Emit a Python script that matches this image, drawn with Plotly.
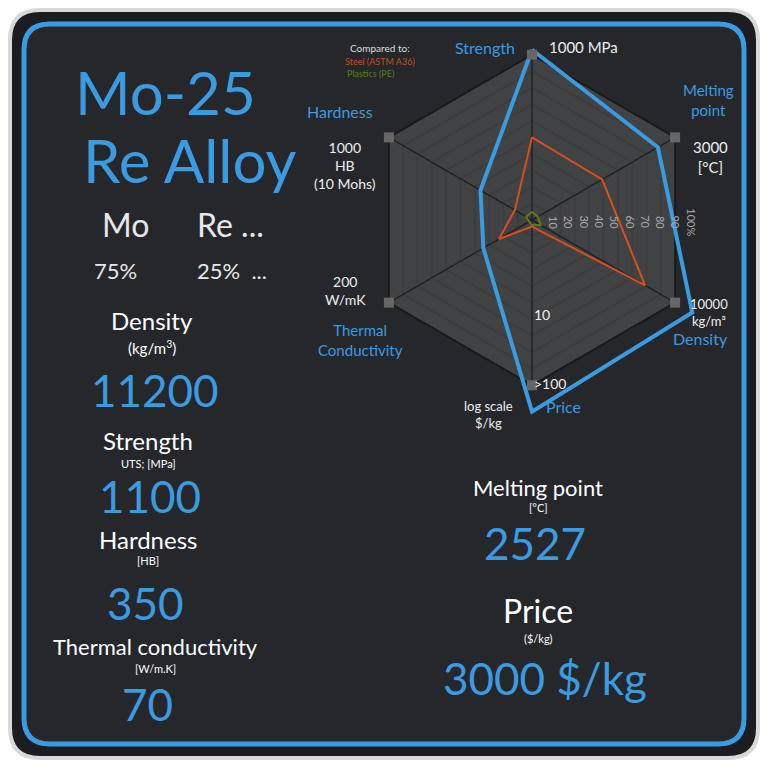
import plotly.graph_objects as go

axes = ["Strength", "Melting point", "Density", "Price", "Thermal Conductivity", "Hardness"]
alloy = [103, 88, 112, 116, 34, 36]
steel = [50, 49, 79, 4, 23, 12]
plastic = [5, 4, 6, 3, 2, 4]
rings = [10, 20, 30, 40, 50, 60, 70, 80, 90, 100]
ring_labels = ["10", "20", "30", "40", "50", "60", "70", "80", "90", "100%"]

BLUE = "#3b9be0"
F = "Lato"
fig = go.Figure()

def closed(v):
    return list(v) + [v[0]]
th = closed(axes)

for i, r in enumerate(rings):
    fig.add_trace(go.Scatterpolar(r=[r]*7, theta=th, mode="lines",
        line=dict(color="#1a1a1a", width=2), fill="toself" if i == len(rings)-1 else None,
        fillcolor="rgba(85,85,85,0.6)", hoverinfo="skip", showlegend=False))
for a in axes:
    fig.add_trace(go.Scatterpolar(r=[0, 100], theta=[a, a], mode="lines",
        line=dict(color="#222", width=1.5), hoverinfo="skip", showlegend=False))
fig.add_trace(go.Scatterpolar(r=closed(plastic), theta=th, mode="lines",
    line=dict(color="#5a7a1e", width=2), showlegend=False))
fig.add_trace(go.Scatterpolar(r=closed(steel), theta=th, mode="lines",
    line=dict(color="#d4501e", width=2), showlegend=False))
fig.add_trace(go.Scatterpolar(r=closed(alloy), theta=th, mode="lines",
    line=dict(color=BLUE, width=4), showlegend=False))
fig.add_trace(go.Scatterpolar(r=[100]*6, theta=axes, mode="markers",
    marker=dict(symbol="square", size=10, color="#666"), hoverinfo="skip", showlegend=False))

OFF = 8
W = 768 - OFF
R = 195
cx, cy = 532 - OFF, 220 - OFF
fig.update_layout(
    width=W, height=W, margin=dict(l=0, r=0, t=0, b=0),
    paper_bgcolor="white", plot_bgcolor="white",
    polar=dict(
        domain=dict(x=[(cx-R)/W, (cx+R)/W], y=[(W-cy-R)/W, (W-cy+R)/W]),
        bgcolor="rgba(0,0,0,0)", gridshape="linear",
        radialaxis=dict(range=[0, 118], visible=False),
        angularaxis=dict(rotation=90, direction="clockwise", visible=False),
    ),
    showlegend=False,
)

shapes = [
    dict(type="path", path="M 40 8 L 728 8 Q 760 8 760 40 L 760 728 Q 760 760 728 760 L 40 760 Q 8 760 8 728 L 8 40 Q 8 8 40 8 Z",
         fillcolor="#d8d8d8", line=dict(width=0)),
    dict(type="path", path="M 40 12 L 728 12 Q 756 12 756 40 L 756 728 Q 756 756 728 756 L 40 756 Q 12 756 12 728 L 12 40 Q 12 12 40 12 Z",
         fillcolor="#1c1d20", line=dict(width=0)),
    dict(type="path", path="M 50 24 L 718 24 Q 744 24 744 50 L 744 718 Q 744 744 718 744 L 50 744 Q 24 744 24 718 L 24 50 Q 24 24 50 24 Z",
         fillcolor="#25272b", line=dict(color=BLUE, width=5)),
]
for s in shapes:
    s["xref"] = "x"; s["yref"] = "y"; s["layer"] = "below"
fig.update_layout(shapes=shapes,
    xaxis=dict(range=[OFF, 768], visible=False, fixedrange=True),
    yaxis=dict(range=[768, OFF], visible=False, fixedrange=True))

def T(x, y, text, size, color="white", anchor="center"):
    fig.add_annotation(x=x, y=y, xref="x", yref="y", text=text, showarrow=False,
        font=dict(family=F, size=size, color=color), xanchor=anchor, yanchor="middle")

T(165, 92, "Mo-25", 60, BLUE)
T(190, 160, "Re Alloy", 60, BLUE)
T(125, 224, "Mo", 32, "#e8e8e8"); T(230, 224, "Re ...", 32, "#e8e8e8")
T(115, 270, "75%", 22, "#e8e8e8"); T(232, 270, "25%  ...", 22, "#e8e8e8")
T(152, 320, "Density", 24); T(152, 347, "(kg/m<sup>3</sup>)", 15)
T(155, 390, "11200", 44, BLUE)
T(148, 440, "Strength", 24); T(148, 463, "UTS; [MPa]", 11)
T(150, 496, "1100", 44, BLUE)
T(148, 539, "Hardness", 24); T(148, 560, "[HB]", 11)
T(145, 603, "350", 44, BLUE)
T(155, 646, "Thermal conductivity", 22); T(155, 668, "[W/m.K]", 11)
T(147, 704, "70", 44, BLUE)
T(538, 487, "Melting point", 22); T(538, 507, "[°C]", 11)
T(535, 543, "2527", 44, BLUE)
T(538, 610, "Price", 32); T(538, 638, "($/kg)", 11)
T(545, 678, "3000 $/kg", 44, BLUE)

T(380, 48, "Compared to:", 10, "#ddd")
T(380, 61, "Steel (ASTM A36)", 9, "#c8501e")
T(370, 73, "Plastics (PE)", 9, "#5a7a1e")
T(485, 47, "Strength", 16, BLUE); T(583, 47, "1000 MPa", 15, "#eee")
T(708, 100, "Melting<br>point", 15, BLUE); T(710, 157, "3000<br>[°C]", 15, "#eee")
T(340, 111, "Hardness", 16, BLUE); T(345, 165, "1000<br>HB<br>(10 Mohs)", 14, "#eee")
T(345, 290, "200<br>W/mK", 14, "#eee"); T(360, 340, "Thermal<br>Conductivity", 15, BLUE)
T(709, 312, "10000<br>kg/m³", 13, "#eee"); T(700, 338, "Density", 16, BLUE)
T(550, 383, ">100", 14, "#eee"); T(563, 406, "Price", 16, BLUE)
T(488, 414, "log scale<br>$/kg", 13, "#eee")
T(542, 314, "10", 14, "#eee")
for i, lab in enumerate(ring_labels):
    x = 554 + i * 15.3
    fig.add_annotation(x=x, y=222, xref="x", yref="y", text=lab, showarrow=False, textangle=90,
        font=dict(family=F, size=11, color="#aaa"))

fig.write_html("out.html")
